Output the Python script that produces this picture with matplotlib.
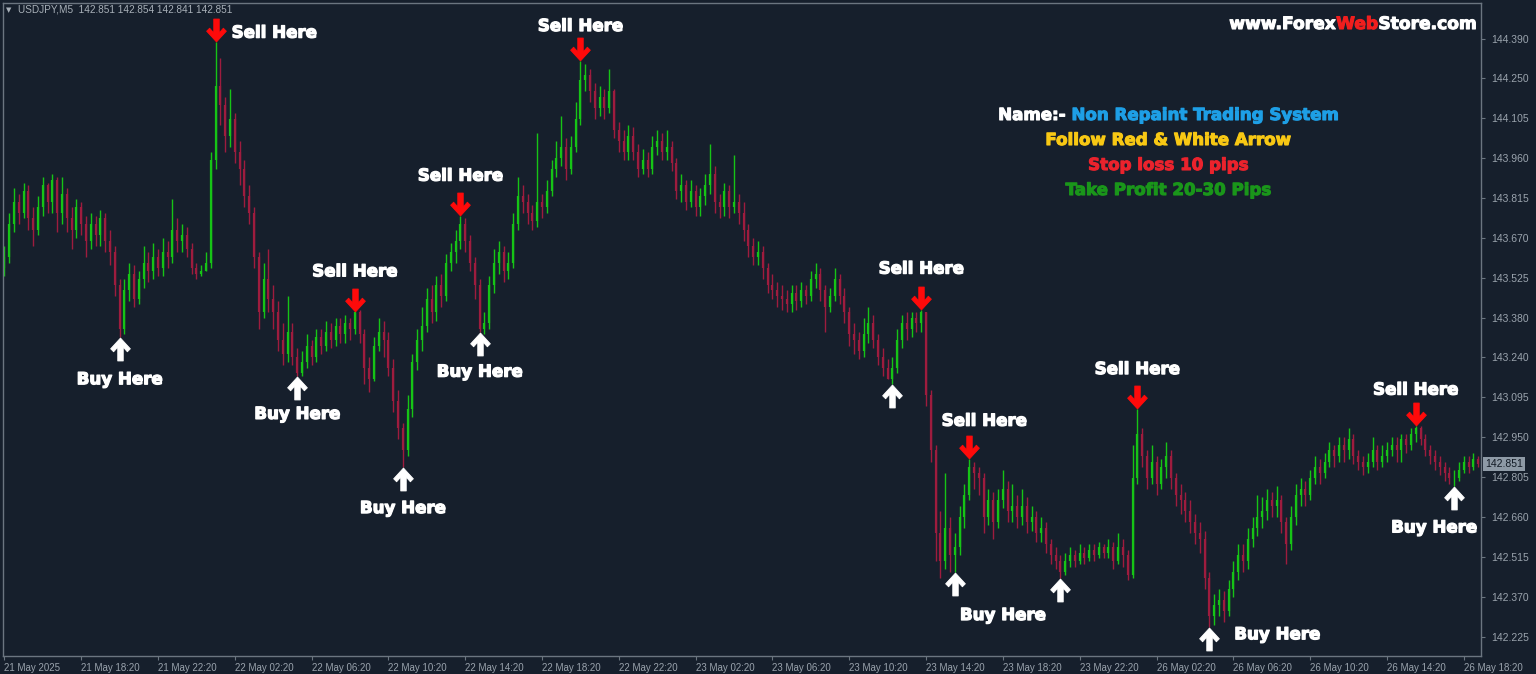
import numpy as np
import matplotlib
matplotlib.use("Agg")
import matplotlib.pyplot as plt
import matplotlib.patheffects as pe
from matplotlib.path import Path
from matplotlib.transforms import offset_copy, IdentityTransform, blended_transform_factory

# --- data: USDJPY, one bar = 15 minutes ---
first_open = 143.56
closes = [
    143.60, 143.72, 143.80, 143.76, 143.84, 143.74, 143.70, 143.78, 143.86, 143.80,
    143.88, 143.76, 143.83, 143.74, 143.70, 143.78, 143.72, 143.66, 143.72, 143.68,
    143.74, 143.66, 143.62, 143.50, 143.34, 143.48, 143.54, 143.45, 143.52, 143.58,
    143.55, 143.60, 143.56, 143.62, 143.60, 143.70, 143.66, 143.68, 143.63, 143.56,
    143.54, 143.55, 143.58, 143.95, 144.22, 144.15, 144.04, 144.10, 143.98, 143.92,
    143.82, 143.76, 143.60, 143.40, 143.52, 143.45, 143.40, 143.30, 143.25, 143.33,
    143.24, 143.18, 143.22, 143.28, 143.24, 143.31, 143.28, 143.33, 143.30, 143.35,
    143.32, 143.36, 143.34, 143.40, 143.32, 143.20, 143.16, 143.28, 143.33, 143.30,
    143.20, 143.08, 142.98, 142.90, 143.05, 143.22, 143.30, 143.35, 143.45, 143.40,
    143.50, 143.46, 143.58, 143.62, 143.66, 143.72, 143.66, 143.58, 143.50, 143.34,
    143.36, 143.50, 143.58, 143.62, 143.55, 143.58, 143.72, 143.82, 143.80, 143.76,
    143.73, 143.80, 143.78, 143.84, 143.92, 143.96, 144.00, 143.92, 144.00, 144.10,
    144.24, 144.26, 144.20, 144.14, 144.18, 144.14, 144.20, 144.06, 144.02, 143.98,
    144.04, 143.98, 143.92, 143.95, 143.92, 144.00, 144.02, 143.98, 144.00, 143.94,
    143.84, 143.86, 143.80, 143.84, 143.78, 143.82, 143.86, 143.90, 143.80, 143.78,
    143.84, 143.78, 143.80, 143.76, 143.70, 143.64, 143.60, 143.62, 143.56, 143.50,
    143.48, 143.46, 143.45, 143.43, 143.47, 143.44, 143.48, 143.46, 143.52, 143.54,
    143.48, 143.42, 143.46, 143.52, 143.46, 143.40, 143.32, 143.30, 143.26, 143.32,
    143.36, 143.30, 143.24, 143.20, 143.16, 143.20, 143.30, 143.36, 143.34, 143.38,
    143.36, 143.40, 143.10, 142.90, 142.60, 142.50, 142.62, 142.52, 142.55, 142.66,
    142.74, 142.84, 142.82, 142.80, 142.66, 142.72, 142.64, 142.72, 142.76, 142.68,
    142.70, 142.66, 142.70, 142.64, 142.66, 142.60, 142.62, 142.56, 142.52, 142.50,
    142.46, 142.50, 142.52, 142.50, 142.53, 142.51, 142.54, 142.52, 142.55, 142.53,
    142.55, 142.50, 142.55, 142.52, 142.45, 142.80, 142.96, 142.88, 142.80, 142.86,
    142.78, 142.84, 142.88, 142.80, 142.74, 142.72, 142.68, 142.64, 142.60, 142.58,
    142.44, 142.30, 142.34, 142.36, 142.32, 142.40, 142.46, 142.52, 142.50, 142.58,
    142.62, 142.66, 142.68, 142.72, 142.70, 142.72, 142.64, 142.56, 142.66, 142.74,
    142.76, 142.74, 142.80, 142.84, 142.82, 142.86, 142.90, 142.88, 142.92, 142.90,
    142.94, 142.88, 142.86, 142.84, 142.86, 142.90, 142.86, 142.88, 142.90, 142.92,
    142.90, 142.94, 142.92, 142.96, 142.98, 142.94, 142.90, 142.88, 142.86, 142.84,
    142.82, 142.80, 142.80, 142.83, 142.86, 142.84, 142.87, 142.851,
]
highs = [
    143.64, 143.76, 143.85, 143.83, 143.87, 143.86, 143.78, 143.82, 143.89, 143.87,
    143.90, 143.89, 143.89, 143.85, 143.78, 143.81, 143.80, 143.75, 143.76, 143.75,
    143.77, 143.76, 143.70, 143.64, 143.52, 143.52, 143.58, 143.57, 143.55, 143.64,
    143.62, 143.65, 143.63, 143.67, 143.66, 143.81, 143.74, 143.72, 143.71, 143.65,
    143.58, 143.57, 143.62, 143.98, 144.38, 144.32, 144.18, 144.21, 144.12, 144.02,
    143.95, 143.86, 143.78, 143.62, 143.58, 143.63, 143.50, 143.44, 143.36, 143.46,
    143.36, 143.27, 143.26, 143.32, 143.30, 143.34, 143.34, 143.37, 143.36, 143.38,
    143.38, 143.39, 143.38, 143.40, 143.41, 143.34, 143.24, 143.31, 143.38, 143.37,
    143.33, 143.23, 143.12, 143.00, 143.10, 143.25, 143.34, 143.42, 143.49, 143.50,
    143.53, 143.54, 143.61, 143.65, 143.70, 143.75, 143.74, 143.68, 143.60, 143.52,
    143.40, 143.53, 143.63, 143.66, 143.64, 143.62, 143.76, 143.89, 143.86, 143.83,
    143.79, 144.05, 143.83, 143.88, 143.95, 144.02, 144.11, 144.03, 144.04, 144.16,
    144.31, 144.30, 144.28, 144.23, 144.22, 144.21, 144.28, 144.21, 144.09, 144.06,
    144.08, 144.07, 144.01, 143.99, 143.98, 144.04, 144.06, 144.05, 144.06, 144.02,
    143.96, 143.90, 143.88, 143.88, 143.86, 143.85, 143.90, 144.01, 143.93, 143.83,
    143.87, 143.86, 143.97, 143.83, 143.80, 143.72, 143.67, 143.66, 143.64, 143.58,
    143.54, 143.51, 143.50, 143.48, 143.50, 143.50, 143.51, 143.50, 143.55, 143.58,
    143.56, 143.50, 143.49, 143.56, 143.54, 143.49, 143.42, 143.36, 143.33, 143.38,
    143.42, 143.39, 143.32, 143.27, 143.23, 143.24, 143.34, 143.39, 143.40, 143.40,
    143.40, 143.41, 143.40, 143.12, 142.92, 142.68, 142.82, 142.66, 142.60, 142.70,
    142.78, 142.87, 142.86, 142.84, 142.82, 142.76, 142.75, 142.76, 142.83, 142.79,
    142.78, 142.74, 142.76, 142.73, 142.70, 142.68, 142.66, 142.64, 142.58, 142.55,
    142.52, 142.53, 142.55, 142.54, 142.56, 142.55, 142.56, 142.56, 142.57, 142.56,
    142.58, 142.57, 142.60, 142.58, 142.54, 142.92, 143.05, 142.98, 142.90, 142.92,
    142.88, 142.87, 142.93, 142.90, 142.82, 142.78, 142.75, 142.72, 142.67, 142.64,
    142.61, 142.46, 142.38, 142.40, 142.39, 142.43, 142.50, 142.56, 142.56, 142.62,
    142.66, 142.74, 142.73, 142.76, 142.75, 142.77, 142.74, 142.66, 142.70, 142.78,
    142.80, 142.79, 142.83, 142.88, 142.87, 142.89, 142.93, 142.92, 142.95, 142.95,
    142.98, 142.96, 142.90, 142.88, 142.89, 142.95, 142.92, 142.92, 142.93, 142.95,
    142.95, 142.96, 142.96, 142.98, 142.99, 142.99, 142.96, 142.92, 142.90, 142.88,
    142.86, 142.84, 142.83, 142.86, 142.88, 142.88, 142.89, 142.88,
]
lows = [
    143.53, 143.58, 143.69, 143.72, 143.74, 143.70, 143.64, 143.68, 143.75, 143.76,
    143.76, 143.69, 143.72, 143.69, 143.63, 143.67, 143.68, 143.60, 143.63, 143.64,
    143.64, 143.62, 143.57, 143.46, 143.31, 143.32, 143.44, 143.42, 143.43, 143.49,
    143.51, 143.52, 143.53, 143.53, 143.56, 143.58, 143.62, 143.62, 143.60, 143.54,
    143.52, 143.53, 143.55, 143.56, 143.92, 144.08, 143.98, 144.00, 143.94, 143.86,
    143.78, 143.72, 143.56, 143.34, 143.38, 143.40, 143.34, 143.26, 143.21, 143.22,
    143.21, 143.17, 143.17, 143.20, 143.21, 143.22, 143.25, 143.26, 143.27, 143.28,
    143.29, 143.29, 143.30, 143.32, 143.29, 143.14, 143.11, 143.15, 143.26, 143.24,
    143.17, 143.04, 142.94, 142.84, 142.88, 143.02, 143.19, 143.26, 143.33, 143.36,
    143.37, 143.42, 143.44, 143.55, 143.58, 143.63, 143.62, 143.55, 143.45, 143.33,
    143.32, 143.34, 143.47, 143.54, 143.51, 143.52, 143.56, 143.70, 143.76, 143.72,
    143.70, 143.71, 143.74, 143.76, 143.82, 143.89, 143.93, 143.88, 143.90, 143.98,
    144.08, 144.20, 144.16, 144.10, 144.11, 144.10, 144.12, 144.03, 143.98, 143.95,
    143.95, 143.95, 143.89, 143.90, 143.89, 143.90, 143.97, 143.95, 143.95, 143.91,
    143.81, 143.80, 143.77, 143.78, 143.75, 143.75, 143.79, 143.83, 143.76, 143.74,
    143.75, 143.74, 143.76, 143.72, 143.66, 143.60, 143.57, 143.57, 143.52, 143.47,
    143.45, 143.42, 143.41, 143.40, 143.40, 143.41, 143.42, 143.43, 143.44, 143.49,
    143.44, 143.33, 143.40, 143.44, 143.43, 143.36, 143.28, 143.25, 143.23, 143.24,
    143.29, 143.27, 143.21, 143.17, 143.17, 143.14, 143.18, 143.27, 143.30, 143.31,
    143.33, 143.33, 143.06, 142.86, 142.50, 142.44, 142.47, 142.46, 142.46, 142.52,
    142.62, 142.72, 142.76, 142.74, 142.60, 142.63, 142.58, 142.62, 142.69, 142.64,
    142.64, 142.62, 142.63, 142.60, 142.61, 142.57, 142.57, 142.53, 142.49, 142.47,
    142.44, 142.45, 142.48, 142.48, 142.49, 142.49, 142.50, 142.50, 142.51, 142.51,
    142.51, 142.47, 142.49, 142.48, 142.43, 142.44, 142.78, 142.84, 142.76, 142.78,
    142.74, 142.76, 142.80, 142.76, 142.70, 142.67, 142.64, 142.60, 142.56, 142.53,
    142.40, 142.26, 142.27, 142.30, 142.28, 142.30, 142.37, 142.43, 142.46, 142.47,
    142.55, 142.59, 142.62, 142.65, 142.66, 142.66, 142.60, 142.49, 142.54, 142.63,
    142.70, 142.70, 142.72, 142.78, 142.78, 142.80, 142.84, 142.84, 142.86, 142.86,
    142.87, 142.85, 142.83, 142.81, 142.82, 142.84, 142.83, 142.84, 142.86, 142.88,
    142.86, 142.86, 142.89, 142.90, 142.93, 142.92, 142.88, 142.85, 142.83, 142.81,
    142.79, 142.78, 142.77, 142.79, 142.82, 142.82, 142.83, 142.84,
]

sell_bars = [44, 73, 95, 120, 191, 201, 236, 294]
buy_bars = [24, 61, 83, 99, 185, 198, 220, 251, 302]

time_labels = ["21 May 2025", "21 May 18:20", "21 May 22:20", "22 May 02:20", "22 May 06:20",
               "22 May 10:20", "22 May 14:20", "22 May 18:20", "22 May 22:20", "23 May 02:20",
               "23 May 06:20", "23 May 10:20", "23 May 14:20", "23 May 18:20", "23 May 22:20",
               "26 May 02:20", "26 May 06:20", "26 May 10:20", "26 May 14:20", "26 May 18:20"]
price_ticks = [144.390, 144.250, 144.105, 143.960, 143.815, 143.670, 143.525, 143.380,
               143.240, 143.095, 142.950, 142.805, 142.660, 142.515, 142.370, 142.225]
last_price = 142.851
header = "USDJPY,M5  142.851 142.854 142.841 142.851"

# label placement (pixel offsets from the arrow tip), None = no label
sell_label_pos = [(16, 9, "left"), (0, 41, "center"), (0, 40, "center"), (0, 35, "center"),
                  (0, 41, "center"), (15, 38, "center"), (0, 40, "center"), (0, 36, "center")]
buy_label_pos = [(0, -42, "center"), (0, -38, "center"), (0, -41, "center"), (0, -40, "center"),
                 None, (48, -43, "center"), None, (25, -7, "left"), (-20, -41, "center")]

BG = "#161f2c"
GREEN = "#16c416"
RED = "#9e1c3e"
AXCOL = "#6b7580"
TXTCOL = "#9aa3ad"

W, H = 1536, 674
fig = plt.figure(figsize=(W / 100, H / 100), dpi=100, facecolor=BG)
ax = fig.add_axes([3 / W, 18 / H, 1478 / W, 653 / H])
ax.set_facecolor(BG)

closes = np.array(closes)
opens = np.concatenate([[first_open], closes[:-1]])
highs = np.maximum(np.array(highs), np.maximum(opens, closes))
lows = np.minimum(np.array(lows), np.minimum(opens, closes))
idx = np.arange(len(closes))
up = closes >= opens

for m, col in [(up, GREEN), (~up, RED)]:
    ax.vlines(idx[m], lows[m], highs[m], color=col, lw=1.0)
    ax.vlines(idx[m], opens[m], closes[m], color=col, lw=1.6)

ax.set_xlim(-0.3, 307.6)
ax.set_ylim(142.156, 144.520)

# arrows (thick shaft + chevron head)
down_verts = [(-0.24, 1), (0.24, 1), (0.24, -0.2), (0.6, 0.2), (0.86, -0.06), (0, -1),
              (-0.86, -0.06), (-0.6, 0.2), (-0.24, -0.2), (-0.24, 1)]
down_arrow = Path(down_verts, closed=True)
up_arrow = Path([(x, -y) for x, y in down_verts], closed=True)

sell_tr = offset_copy(ax.transData, fig=fig, x=0, y=12, units="dots")
buy_tr = offset_copy(ax.transData, fig=fig, x=0, y=-12, units="dots")
ax.plot(sell_bars, highs[sell_bars], ls="none", marker=down_arrow, ms=16.5,
        color="#ff0a0a", mec="#ff0a0a", mew=0.6, transform=sell_tr, clip_on=False)
ax.plot(buy_bars, lows[buy_bars], ls="none", marker=up_arrow, ms=16.5,
        color="white", mec="white", mew=0.6, transform=buy_tr, clip_on=False)

heavy = [pe.withStroke(linewidth=0.9, foreground="white")]
for b, pos in zip(sell_bars, sell_label_pos):
    dx, dy, ha = pos
    tr = offset_copy(ax.transData, fig=fig, x=dx, y=dy, units="dots")
    ax.text(b, highs[b], "Sell Here", transform=tr, ha=ha, va="center", color="white",
            fontsize=12, fontweight="bold", clip_on=False, path_effects=heavy)
for b, pos in zip(buy_bars, buy_label_pos):
    if pos is None:
        continue
    dx, dy, ha = pos
    tr = offset_copy(ax.transData, fig=fig, x=dx, y=dy, units="dots")
    ax.text(b, lows[b], "Buy Here", transform=tr, ha=ha, va="center", color="white",
            fontsize=12, fontweight="bold", clip_on=False, path_effects=heavy)

# axes
for s in ax.spines.values():
    s.set_color(AXCOL)
    s.set_linewidth(1)
ax.yaxis.tick_right()
ax.set_yticks(price_ticks)
ax.set_yticklabels([f"{p:.3f}" for p in price_ticks])
ax.set_xticks(np.arange(len(time_labels)) * 16)
ax.set_xticklabels(time_labels)
for lbl in ax.get_xticklabels():
    lbl.set_ha("left")
ax.tick_params(axis="y", colors=AXCOL, labelcolor=TXTCOL, length=3, pad=4, labelsize=7.5)
ax.tick_params(axis="x", colors=AXCOL, labelcolor=TXTCOL, length=3, pad=2, labelsize=7)
for lbl in ax.get_xticklabels() + ax.get_yticklabels():
    lbl.set_family(["Liberation Sans", "DejaVu Sans"])

# current price box
ptr = offset_copy(blended_transform_factory(ax.transAxes, ax.transData), fig=fig, x=4, y=0, units="dots")
ax.text(1.0, last_price, "142.851", transform=ptr, ha="left", va="center", fontsize=7.5,
        color="#111a24", family=["Liberation Sans", "DejaVu Sans"], clip_on=False,
        bbox=dict(boxstyle="square,pad=0.2", fc="#8e9aa6", ec="none"))

# header
ident = IdentityTransform()
fig.text(6, H - 10, "\u25bc", transform=ident, fontsize=5, color="#a8b0b8", va="center",
         family=["DejaVu Sans"])
fig.text(18, H - 10, header, transform=ident, fontsize=7.2, color="#a8b0b8", va="center",
         family=["Liberation Sans", "DejaVu Sans"])

renderer = fig.canvas.get_renderer()


def part_text(parts, x, y, align, size, gap=0):
    objs = [fig.text(0, 0, s, color=c, fontsize=size, fontweight="bold",
                     transform=ident, va="center", ha="left",
                     path_effects=[pe.withStroke(linewidth=0.8, foreground=c)]) for s, c in parts]
    widths = [o.get_window_extent(renderer).width for o in objs]
    total = sum(widths) + gap * (len(parts) - 1)
    start = x - total / 2 if align == "center" else x - total
    for o, w in zip(objs, widths):
        o.set_position((start, H - y))
        start += w + gap


part_text([("www.Forex", "white"), ("Web", "#f01e1e"), ("Store.com", "white")], 1477, 24, "right", 12.3)
part_text([("Name:-", "white"), ("Non Repaint Trading System", "#1e9fe6")], 1168, 115, "center", 12, gap=6)
part_text([("Follow Red & White Arrow", "#f8c814")], 1168, 140, "center", 12)
part_text([("Stop loss 10 pips", "#eb232d")], 1168, 165, "center", 12)
part_text([("Take Profit 20-30 Pips", "#1a961a")], 1168, 190, "center", 12)

fig.savefig("out.png", dpi=100, facecolor=BG)
